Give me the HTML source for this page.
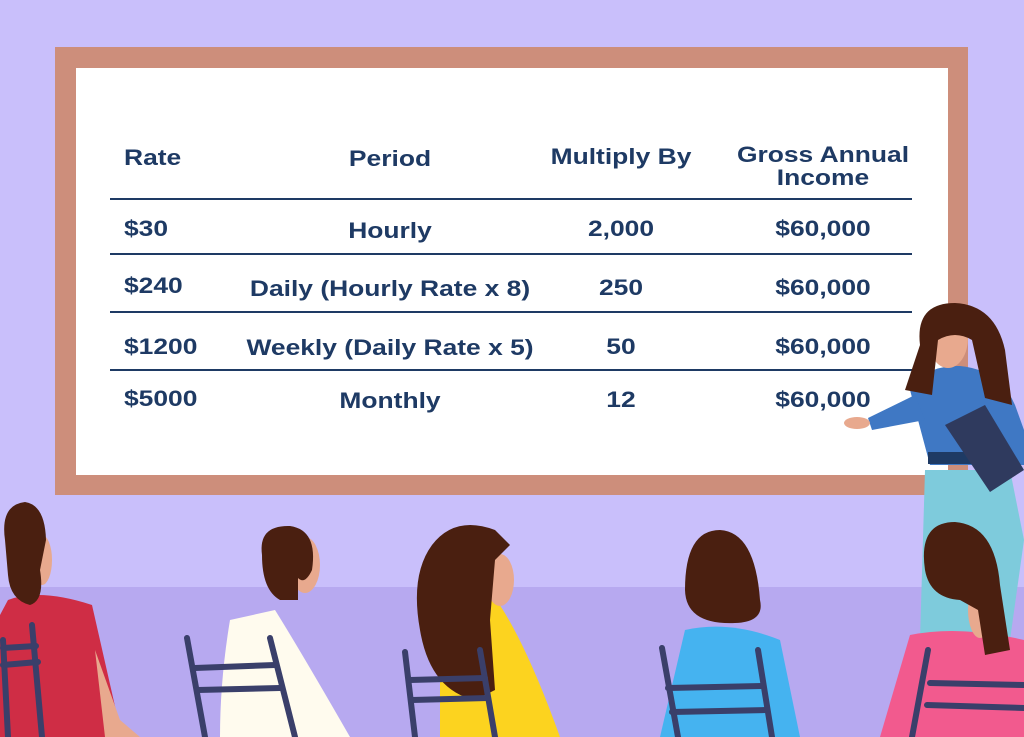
<!DOCTYPE html>
<html><head><style>
html,body{margin:0;padding:0;}
body{width:1024px;height:737px;overflow:hidden;position:relative;background:#c9bffb;font-family:"Liberation Sans",sans-serif;}
.t{position:absolute;color:#1e3a64;font-weight:bold;font-size:22px;white-space:nowrap;transform-origin:0 0;transform:scaleX(1.2);}
.c{transform-origin:50% 0;transform:translateX(-50%) scaleX(1.2);}
</style></head><body>
<svg width="1024" height="737" style="position:absolute;left:0;top:0">
<rect x="0" y="587" width="1024" height="150" fill="#b7a9f0"/>
<rect x="55" y="47" width="913" height="448" fill="#cd8e7b"/>
<rect x="76" y="68" width="872" height="407" fill="#fff"/>
<g stroke="#1e3a64" stroke-width="2">
<line x1="110" y1="199" x2="912" y2="199"/><line x1="110" y1="254" x2="912" y2="254"/>
<line x1="110" y1="312" x2="912" y2="312"/><line x1="110" y1="370" x2="912" y2="370"/>
</g>
<!-- presenter -->
<path d="M925 470 L920 640 L1010 640 L1024 540 L1010 470 Z" fill="#7ecbdc"/>
<path d="M910 390 Q925 365 960 366 Q1000 370 1015 405 L1024 430 L1024 465 L930 465 Z" fill="#3f78c4"/>
<rect x="928" y="452" width="50" height="12" fill="#1e3a64"/>
<path d="M868 418 L915 395 L925 420 L872 430 Z" fill="#3f78c4"/>
<ellipse cx="857" cy="423" rx="13" ry="6" fill="#e8a98e"/>
<path d="M945 425 L985 405 L1024 470 L990 492 Z" fill="#2f3a5e"/>
<ellipse cx="948" cy="338" rx="20" ry="30" fill="#e8a98e"/>
<path d="M920 345 Q915 303 955 303 Q995 305 1005 350 L1012 405 L985 398 L972 340 Q955 330 938 340 L932 395 L905 390 Z" fill="#4a1f10"/>
<!-- person 1 red -->
<path d="M8 600 Q40 588 92 605 L122 737 L0 737 L0 615 Z" fill="#cf2d45"/>
<path d="M95 650 L120 720 L140 737 L105 737 Z" fill="#e8a98e"/>
<ellipse cx="42" cy="560" rx="10" ry="25" fill="#e8a98e"/>
<path d="M5 540 Q0 505 25 502 Q45 505 46 540 L40 570 Q45 600 30 605 Q10 600 8 575 Z" fill="#4a1f10"/>
<!-- person 2 white -->
<path d="M230 620 L275 610 Q300 650 350 737 L220 737 Q220 680 230 620 Z" fill="#fffbee"/>
<ellipse cx="305" cy="565" rx="15" ry="28" fill="#e8a98e"/>
<path d="M262 555 Q258 525 290 526 Q318 530 312 570 Q305 585 298 578 L298 600 L280 600 Q262 590 262 555 Z" fill="#4a1f10"/>
<!-- person 3 yellow -->
<path d="M440 605 L495 598 Q525 640 560 737 L440 737 Z" fill="#fcd31f"/>
<ellipse cx="500" cy="580" rx="14" ry="26" fill="#e8a98e"/>
<path d="M420 630 Q410 575 432 545 Q455 515 495 530 L510 545 L495 560 L490 620 L495 690 L475 700 Q430 690 420 630 Z" fill="#4a1f10"/>
<!-- person 4 blue -->
<path d="M685 630 Q730 620 780 640 L800 737 L660 737 Z" fill="#45b3f0"/>
<path d="M685 590 Q685 530 720 530 Q755 532 760 600 Q765 622 735 623 Q686 625 685 590 Z" fill="#4a1f10"/>
<!-- person 5 pink -->
<path d="M910 635 Q960 625 1024 640 L1024 737 L880 737 Z" fill="#f25a8e"/>
<ellipse cx="980" cy="610" rx="12" ry="28" fill="#e8a98e"/>
<path d="M925 570 Q918 522 955 522 Q995 525 1000 585 L1010 650 L985 655 L978 610 L960 600 Q930 598 925 570 Z" fill="#4a1f10"/>
<g stroke="#3a3f6a" stroke-width="6" fill="none" stroke-linecap="round">
<path d="M32 625 L42 737"/><path d="M3 640 L8 737"/><path d="M3 648 L36 646"/><path d="M3 665 L38 662"/>
<path d="M187 638 L205 737"/><path d="M270 638 L295 737"/><path d="M195 668 L275 665"/><path d="M198 690 L280 688"/>
<path d="M405 652 L415 737"/><path d="M480 650 L495 737"/><path d="M410 680 L485 678"/><path d="M412 700 L488 698"/>
<path d="M662 648 L678 737"/><path d="M758 650 L772 737"/><path d="M668 688 L762 686"/><path d="M672 712 L766 710"/>
<path d="M928 650 L912 737"/><path d="M930 683 L1024 685"/><path d="M927 705 L1024 708"/>
</g>
</svg>
<div class="t" style="left:124px;top:145px">Rate</div>
<div class="t c" style="left:390px;top:146px">Period</div>
<div class="t c" style="left:621px;top:144px">Multiply By</div>
<div class="t c" style="left:823px;top:143px;line-height:23px;text-align:center">Gross Annual<br>Income</div>
<div class="t" style="left:124px;top:216px">$30</div>
<div class="t c" style="left:390px;top:218px">Hourly</div>
<div class="t c" style="left:621px;top:216px">2,000</div>
<div class="t c" style="left:823px;top:216px">$60,000</div>
<div class="t" style="left:124px;top:273px">$240</div>
<div class="t c" style="left:390px;top:276px">Daily (Hourly Rate x 8)</div>
<div class="t c" style="left:621px;top:275px">250</div>
<div class="t c" style="left:823px;top:275px">$60,000</div>
<div class="t" style="left:124px;top:334px">$1200</div>
<div class="t c" style="left:390px;top:335px">Weekly (Daily Rate x 5)</div>
<div class="t c" style="left:621px;top:334px">50</div>
<div class="t c" style="left:823px;top:334px">$60,000</div>
<div class="t" style="left:124px;top:386px">$5000</div>
<div class="t c" style="left:390px;top:388px">Monthly</div>
<div class="t c" style="left:621px;top:387px">12</div>
<div class="t c" style="left:823px;top:387px">$60,000</div>
</body></html>
